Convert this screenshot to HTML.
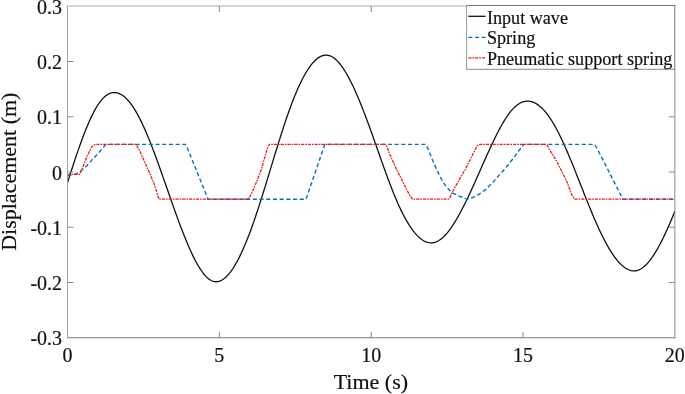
<!DOCTYPE html>
<html><head><meta charset="utf-8"><title>Displacement plot</title>
<style>
html,body{margin:0;padding:0;background:#fff;width:685px;height:394px;overflow:hidden}
svg{display:block}
text{font-family:"Liberation Serif","Times New Roman",serif;fill:#111;stroke:#111;stroke-width:0.2px}
</style></head><body>
<svg width="685" height="394" viewBox="0 0 685 394">
<rect width="685" height="394" fill="#fff"/>
<g fill="none" stroke-linejoin="round">
<polyline points="67.5,182.78 68.72,178.92 69.93,175.09 71.15,171.28 72.37,167.52 73.59,163.79 74.8,160.1 76.02,156.47 77.24,152.89 78.45,149.37 79.67,145.91 80.89,142.52 82.11,139.2 83.32,135.96 84.54,132.81 85.76,129.74 86.97,126.76 88.19,123.88 89.41,121.1 90.63,118.43 91.84,115.87 93.06,113.42 94.28,111.1 95.49,108.9 96.71,106.83 97.93,104.89 99.15,103.09 100.36,101.44 101.58,99.94 102.8,98.57 104.01,97.35 105.23,96.27 106.45,95.34 107.67,94.54 108.88,93.87 110.1,93.35 111.32,92.95 112.53,92.69 113.75,92.56 114.97,92.56 116.19,92.69 117.4,92.95 118.62,93.33 119.84,93.84 121.05,94.47 122.27,95.22 123.49,96.09 124.71,97.08 125.92,98.19 127.14,99.41 128.36,100.75 129.57,102.2 130.79,103.76 132.01,105.43 133.23,107.21 134.44,109.1 135.66,111.1 136.88,113.19 138.09,115.4 139.31,117.7 140.53,120.1 141.75,122.6 142.96,125.19 144.18,127.86 145.4,130.62 146.61,133.45 147.83,136.36 149.05,139.33 150.27,142.38 151.48,145.48 152.7,148.63 153.92,151.84 155.13,155.1 156.35,158.4 157.57,161.73 158.79,165.11 160,168.51 161.22,171.93 162.44,175.38 163.65,178.84 164.87,182.32 166.09,185.8 167.31,189.29 168.52,192.78 169.74,196.26 170.96,199.73 172.17,203.19 173.39,206.63 174.61,210.05 175.82,213.44 177.04,216.8 178.26,220.13 179.48,223.41 180.69,226.65 181.91,229.84 183.13,232.98 184.34,236.06 185.56,239.08 186.78,242.03 188,244.91 189.21,247.72 190.43,250.45 191.65,253.09 192.86,255.65 194.08,258.11 195.3,260.48 196.52,262.74 197.73,264.91 198.95,266.96 200.17,268.89 201.38,270.71 202.6,272.41 203.82,273.98 205.04,275.42 206.25,276.72 207.47,277.88 208.69,278.89 209.9,279.76 211.12,280.48 212.34,281.03 213.56,281.43 214.77,281.68 215.99,281.77 217.21,281.71 218.42,281.5 219.64,281.14 220.86,280.65 222.08,280.01 223.29,279.23 224.51,278.32 225.73,277.27 226.94,276.09 228.16,274.79 229.38,273.35 230.6,271.8 231.81,270.12 233.03,268.32 234.25,266.4 235.46,264.37 236.68,262.23 237.9,259.98 239.12,257.62 240.33,255.16 241.55,252.59 242.77,249.93 243.98,247.17 245.2,244.31 246.42,241.36 247.64,238.32 248.85,235.19 250.07,231.98 251.29,228.68 252.5,225.3 253.72,221.85 254.94,218.32 256.16,214.72 257.37,211.07 258.59,207.35 259.81,203.58 261.02,199.76 262.24,195.91 263.46,192.01 264.68,188.09 265.89,184.13 267.11,180.16 268.33,176.17 269.54,172.17 270.76,168.17 271.98,164.16 273.2,160.17 274.41,156.18 275.63,152.2 276.85,148.25 278.06,144.33 279.28,140.43 280.5,136.58 281.72,132.76 282.93,128.99 284.15,125.28 285.37,121.62 286.58,118.02 287.8,114.5 289.02,111.04 290.24,107.67 291.45,104.38 292.67,101.17 293.89,98.07 295.1,95.05 296.32,92.13 297.54,89.31 298.76,86.59 299.97,83.97 301.19,81.46 302.41,79.04 303.62,76.74 304.84,74.54 306.06,72.45 307.28,70.47 308.49,68.6 309.71,66.85 310.93,65.21 312.14,63.69 313.36,62.29 314.58,61 315.8,59.84 317.01,58.8 318.23,57.89 319.45,57.1 320.66,56.44 321.88,55.91 323.1,55.52 324.32,55.25 325.53,55.12 326.75,55.12 327.97,55.27 329.18,55.55 330.4,55.97 331.62,56.53 332.84,57.23 334.05,58.07 335.27,59.05 336.49,60.15 337.7,61.38 338.92,62.73 340.14,64.2 341.36,65.79 342.57,67.49 343.79,69.3 345.01,71.22 346.22,73.23 347.44,75.35 348.66,77.57 349.88,79.87 351.09,82.27 352.31,84.75 353.53,87.31 354.74,89.96 355.96,92.67 357.18,95.46 358.4,98.32 359.61,101.25 360.83,104.23 362.05,107.28 363.26,110.38 364.48,113.53 365.7,116.73 366.92,119.98 368.13,123.26 369.35,126.59 370.57,129.95 371.78,133.33 373,136.75 374.22,140.17 375.43,143.62 376.65,147.07 377.87,150.52 379.09,153.98 380.3,157.42 381.52,160.86 382.74,164.28 383.95,167.67 385.17,171.04 386.39,174.38 387.61,177.68 388.82,180.94 390.04,184.16 391.26,187.32 392.47,190.42 393.69,193.47 394.91,196.44 396.13,199.35 397.34,202.18 398.56,204.92 399.78,207.58 400.99,210.15 402.21,212.64 403.43,215.03 404.65,217.34 405.86,219.55 407.08,221.67 408.3,223.69 409.51,225.62 410.73,227.46 411.95,229.19 413.17,230.83 414.38,232.37 415.6,233.81 416.82,235.15 418.03,236.38 419.25,237.51 420.47,238.53 421.69,239.45 422.9,240.27 424.12,240.97 425.34,241.56 426.55,242.05 427.77,242.42 428.99,242.68 430.21,242.83 431.42,242.86 432.64,242.77 433.86,242.57 435.07,242.25 436.29,241.82 437.51,241.26 438.73,240.58 439.94,239.79 441.16,238.89 442.38,237.88 443.59,236.76 444.81,235.55 446.03,234.23 447.25,232.82 448.46,231.32 449.68,229.73 450.9,228.05 452.11,226.3 453.33,224.46 454.55,222.55 455.77,220.56 456.98,218.5 458.2,216.38 459.42,214.2 460.63,211.95 461.85,209.65 463.07,207.3 464.29,204.89 465.5,202.44 466.72,199.95 467.94,197.41 469.15,194.84 470.37,192.23 471.59,189.6 472.81,186.93 474.02,184.24 475.24,181.53 476.46,178.8 477.67,176.06 478.89,173.31 480.11,170.55 481.33,167.79 482.54,165.03 483.76,162.27 484.98,159.53 486.19,156.8 487.41,154.09 488.63,151.4 489.85,148.74 491.06,146.11 492.28,143.52 493.5,140.96 494.71,138.45 495.93,135.98 497.15,133.57 498.37,131.22 499.58,128.92 500.8,126.69 502.02,124.53 503.23,122.44 504.45,120.42 505.67,118.49 506.89,116.64 508.1,114.89 509.32,113.22 510.54,111.66 511.75,110.19 512.97,108.83 514.19,107.58 515.41,106.45 516.62,105.42 517.84,104.51 519.06,103.71 520.27,103.01 521.49,102.43 522.71,101.95 523.93,101.58 525.14,101.32 526.36,101.16 527.58,101.11 528.79,101.16 530.01,101.32 531.23,101.58 532.45,101.94 533.66,102.4 534.88,102.96 536.1,103.62 537.31,104.39 538.53,105.25 539.75,106.21 540.97,107.26 542.18,108.41 543.4,109.66 544.62,111 545.83,112.44 547.05,113.97 548.27,115.59 549.49,117.3 550.7,119.11 551.92,121 553.14,122.99 554.35,125.06 555.57,127.23 556.79,129.47 558.01,131.8 559.22,134.21 560.44,136.69 561.66,139.24 562.87,141.85 564.09,144.52 565.31,147.25 566.53,150.04 567.74,152.87 568.96,155.74 570.18,158.66 571.39,161.61 572.61,164.59 573.83,167.6 575.04,170.63 576.26,173.69 577.48,176.75 578.7,179.83 579.91,182.92 581.13,186.01 582.35,189.1 583.56,192.18 584.78,195.26 586,198.32 587.22,201.36 588.43,204.38 589.65,207.38 590.87,210.34 592.08,213.27 593.3,216.16 594.52,219.01 595.74,221.82 596.95,224.57 598.17,227.27 599.39,229.91 600.6,232.48 601.82,235 603.04,237.44 604.26,239.82 605.47,242.12 606.69,244.36 607.91,246.51 609.12,248.59 610.34,250.59 611.56,252.51 612.78,254.35 613.99,256.1 615.21,257.77 616.43,259.34 617.64,260.83 618.86,262.22 620.08,263.51 621.3,264.71 622.51,265.81 623.73,266.81 624.95,267.7 626.16,268.49 627.38,269.17 628.6,269.74 629.82,270.2 631.03,270.55 632.25,270.78 633.47,270.89 634.68,270.88 635.9,270.76 637.12,270.5 638.34,270.13 639.55,269.62 640.77,268.99 641.99,268.23 643.2,267.34 644.42,266.34 645.64,265.22 646.86,263.98 648.07,262.63 649.29,261.18 650.51,259.62 651.72,257.96 652.94,256.2 654.16,254.35 655.38,252.4 656.59,250.37 657.81,248.25 659.03,246.05 660.24,243.76 661.46,241.41 662.68,238.97 663.9,236.47 665.11,233.9 666.33,231.27 667.55,228.57 668.76,225.82 669.98,223.02 671.2,220.16 672.42,217.25 673.63,214.3 674.85,211.31" stroke="#111" stroke-width="1.3"/>
<polyline points="67.5,175.6 69,175.4 72.5,174.8 76.5,173.7 80,171.6 83,169 86.6,166 91.6,160.4 98,153.5 106,144.4 185.5,144.4 187.2,147.6 208.1,199.2 306,199.2 324.8,144.4 425.9,144.4 428.4,149.7 431.7,158.1 436.8,169.9 441.8,179.9 446.8,187.5 451.9,192.5 458.6,195.9 465.3,198.4 468.5,198.9 472.7,197.5 479.4,194.1 486.1,189.1 492.8,182.4 499.5,174.9 506.2,167.3 512.9,158.9 519.6,149.7 523.8,144.4 594.3,144.4 596.5,147.3 622.9,199.2 674.5,199.2" stroke="#0072bd" stroke-width="1.4" stroke-dasharray="4.1 2.6"/>
<polyline points="67.5,174.4 79.5,174.4 82.6,168.1 85.6,159.8 87.3,156 91.6,147.1 93.6,145 95.5,144.4 135.6,144.4 137.5,146.5 140,151.4 145.1,163.1 150.1,174 155.1,186.5 157.5,194.5 158.9,199.2 247.5,199.2 249.5,197.5 251.7,193.2 256.7,181.5 261.8,168.1 265.9,153.1 267.8,147 269.5,144.4 385.9,144.4 388,149.5 390,154.7 396.7,169.8 401.8,179.8 406.8,189.9 410.5,196.5 412.5,199.2 448.5,199.2 450,197.5 454.1,188.8 460.2,178.1 465.5,169 470.9,158.3 474.7,150.7 477,146.1 478.5,144.8 480,144.4 546.7,144.4 549,148.5 551.7,153.1 556.7,161.4 561.8,171.5 566.8,181.5 571.8,194.9 574.5,199.2 674.5,199.2" stroke="#f21a1a" stroke-width="1.3" stroke-dasharray="3.2 1 1.6 1"/>
</g>
<g fill="none" stroke-width="1">
<path d="M67.5 6V337.75" stroke="#a0a0a0" shape-rendering="crispEdges"/>
<path d="M67 337.75H675.35" stroke="#7a7a7a"/>
<path d="M67 6H467" stroke="#aaa"/>
<path d="M674.85 69V338.25" stroke="#888"/>
<g stroke="#8a8a8a"><path d="M67.5 61.5H73.5M674.85 61.5H668.85M67.5 116.75H73.5M674.85 116.75H668.85M67.5 172H73.5M674.85 172H668.85M67.5 227.25H73.5M674.85 227.25H668.85M67.5 282.5H73.5M674.85 282.5H668.85M219.34 337.75V331.75M219.34 6V12M371.18 337.75V331.75M371.18 6V12M523.01 337.75V331.75M523.01 6V12"/></g>
</g>
<g font-size="20">
<text x="62.1" y="13.85" text-anchor="end">0.3</text>
<text x="62.1" y="69.1" text-anchor="end">0.2</text>
<text x="62.1" y="124.35" text-anchor="end">0.1</text>
<text x="62.1" y="179.6" text-anchor="end">0</text>
<text x="62.1" y="234.85" text-anchor="end">-0.1</text>
<text x="62.1" y="290.1" text-anchor="end">-0.2</text>
<text x="62.1" y="345.35" text-anchor="end">-0.3</text>
<text x="67.5" y="361.9" text-anchor="middle">0</text>
<text x="219.34" y="361.9" text-anchor="middle">5</text>
<text x="371.18" y="361.9" text-anchor="middle">10</text>
<text x="523.01" y="361.9" text-anchor="middle">15</text>
<text x="674.85" y="361.9" text-anchor="middle">20</text>
</g>
<text x="370.9" y="389.3" font-size="22" text-anchor="middle">Time (s)</text>
<text transform="translate(15.8 171.7) rotate(-90)" font-size="22" text-anchor="middle">Displacement (m)</text>
<g>
<path d="M467 5.5H674.85V69.3H467Z" fill="#fff" stroke="none"/>
<path d="M467 5.5H675.35" stroke="#777" stroke-width="1" fill="none"/>
<path d="M466.6 5V69.8" stroke="#999" stroke-width="1" fill="none"/>
<path d="M466.5 69.3H675.35" stroke="#8a8a8a" stroke-width="1" fill="none"/>
<path d="M674.75 5V69.3" stroke="#777" stroke-width="1" fill="none"/>
<path d="M468.3 16.3H485.5" stroke="#111" stroke-width="1.3"/>
<path d="M468.3 37.4H485.5" stroke="#0072bd" stroke-width="1.4" stroke-dasharray="4.1 2.6"/>
<path d="M468.3 57.9H485.5" stroke="#f21a1a" stroke-width="1.3" stroke-dasharray="3.2 1 1.6 1"/>
<g font-size="18.15">
<text x="486.9" y="23.6">Input wave</text>
<text x="486.9" y="44.2">Spring</text>
<text x="486.9" y="64.8">Pneumatic support spring</text>
</g>
</g>
</svg>
</body></html>
